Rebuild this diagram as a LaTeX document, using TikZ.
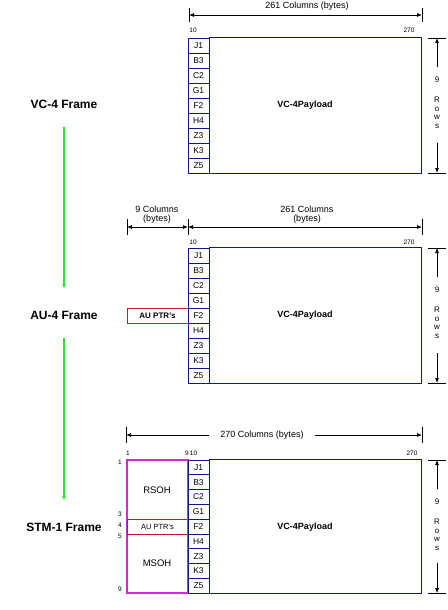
\documentclass[tikz,border=0pt]{standalone}
\usepackage{fontspec}
\setmainfont{Liberation Sans}
\usetikzlibrary{arrows.meta}
\definecolor{boxblue}{RGB}{20,20,130}
\definecolor{ptrred}{RGB}{190,30,30}
\definecolor{sohpink}{RGB}{210,40,210}
\definecolor{flowgreen}{RGB}{40,225,40}

\begin{document}
\begin{tikzpicture}[x=1pt, y=-1pt, line width=0.9pt,
	oh/.style={draw=boxblue, minimum width=21pt, minimum height=15pt, inner sep=0pt, font=\fontsize{8.5}{9}\selectfont},
	ohs/.style={oh, minimum height=14.8pt},
	frame/.style={font=\bfseries\fontsize{12}{14}\selectfont, inner sep=0pt},
	pay/.style={font=\bfseries\fontsize{9}{11}\selectfont},
	ptr/.style={draw=ptrred, minimum width=61pt, minimum height=15pt, inner sep=0pt},
	soh/.style={font=\fontsize{9.5}{11}\selectfont},
	dimtxt/.style={font=\fontsize{9}{9}\selectfont, align=center, inner sep=0pt},
	num/.style={font=\fontsize{6.5}{7}\selectfont, inner sep=0pt},
	rows/.style={font=\fontsize{8}{8.7}\selectfont, align=center, inner sep=0pt},
	dim/.style={<->, >={Latex[length=5pt,width=4pt]}, line width=0.7pt},
	tick/.style={line width=0.7pt},
	grn/.style={->, >={Latex[length=4pt,width=4pt]}, color=flowgreen, line width=1.7pt}]

	\useasboundingbox (0,0) rectangle (447,610);

	% frame names on the left
	\node[frame] (vcf) at (64,104) {VC-4 Frame};
	\node[frame] (auf) at (64,315) {AU-4 Frame};
	\node[frame] (stf) at (64,527) {STM-1 Frame};
	\draw[grn, shorten <=18pt, shorten >=22pt] (vcf) -- (auf);
	\draw[grn, shorten <=18pt, shorten >=22pt] (auf) -- (stf);

	% VC-4 frame
	\coordinate (d1l) at (189,15);
	\coordinate (d1r) at (422,15);
	\draw[dim] (d1l) -- (d1r);
	\draw[tick] (189,8) -- (189,22) (422,8) -- (422,22);
	\node[dimtxt] (d1t) at (307,6) {261 Columns (bytes)};
	\node[num] (n1a) at (193,30) {10};
	\node[num] (n1b) at (409,30) {270};
	\foreach \t [count=\i] in {J1,B3,C2,G1,F2,H4,Z3,K3,Z5}
		\node[oh] (v\i) at (198.5,{30.5+15*\i}) {\t};
	\draw[boxblue] (v1.north east) rectangle (421,173);
	\node[pay] (vpl) at (305,105) {VC-4Payload};

	% AU-4 frame
	\coordinate (d2l) at (127,227);
	\coordinate (d2m) at (188,227);
	\coordinate (d2r) at (422,227);
	\draw[dim] (d2l) -- (d2m);
	\draw[dim] (d2m) -- (d2r);
	\draw[tick] (127,219) -- (127,235) (188,219) -- (188,235) (422,219) -- (422,235);
	\node[dimtxt] (d2a) at (157,214.5) {9 Columns\\(bytes)};
	\node[dimtxt] (d2b) at (307,214.5) {261 Columns\\(bytes)};
	\node[num] (n2a) at (193,242) {10};
	\node[num] (n2b) at (409,242) {270};
	\node[ptr, font=\bfseries\fontsize{8}{9}\selectfont] (aup) at (157.5,315.5) {AU PTR's};
	\foreach \t [count=\i] in {J1,B3,C2,G1,F2,H4,Z3,K3,Z5}
		\node[oh] (a\i) at (198.5,{240.5+15*\i}) {\t};
	\draw[boxblue] (a1.north east) rectangle (421,383);
	\node[pay] (apl) at (305,315) {VC-4Payload};

	% STM-1 frame
	\coordinate (d3l) at (126,435);
	\coordinate (d3r) at (422,435);
	\draw[dim] (d3l) -- (d3r);
	\draw[tick] (126,427) -- (126,443) (422,427) -- (422,443);
	\node[dimtxt, fill=white, inner xsep=11pt, inner ysep=2pt] (d3t) at (262,435) {270 Columns (bytes)};
	\node[num] (n3a) at (128,453) {1};
	\node[num] (n3b) at (187,453) {9};
	\node[num] (n3c) at (193.5,453) {10};
	\node[num] (n3d) at (412,453) {270};
	\node[num] (r1) at (120,462) {1};
	\node[num] (r3) at (120,514) {3};
	\node[num] (r4) at (120,525) {4};
	\node[num] (r5) at (120,536) {5};
	\node[num] (r9) at (120,589) {9};
	\draw[sohpink, line width=2pt] (127,460) rectangle (188,593);
	\node[soh] (rsoh) at (157,490) {RSOH};
	\node[soh] (msoh) at (157,563) {MSOH};
	\node[ptr, minimum height=14.8pt, font=\fontsize{7.5}{9}\selectfont] (sup) at (157.5,526.6) {AU PTR's};
	\foreach \t [count=\i] in {J1,B3,C2,G1,F2,H4,Z3,K3,Z5}
		\node[ohs] (s\i) at (198.5,{452.6+14.8*\i}) {\t};
	\draw[boxblue] (s1.north east) rectangle (421,593.2);
	\node[pay] (spl) at (305,527) {VC-4Payload};

	% row counts on the right
	\foreach \tp/\bt/\n in {38/173/ra, 248/383/rb, 460/593.2/rc} {
		\coordinate (\n-top) at (437,\tp);
		\coordinate (\n-bot) at (437,\bt);
		\coordinate (\n-a) at (437,{\tp+29});
		\coordinate (\n-b) at (437,{\bt-30});
		\draw[tick] (428,\tp) -- (446,\tp) (428,\bt) -- (446,\bt);
		\draw[dim, <-] (\n-top) -- (\n-a);
		\draw[dim, ->] (\n-b) -- (\n-bot);
		\node[rows] (\n-lbl) at (437,{\tp+65}) {9\\[11pt]R\\o\\w\\s};
	}
\end{tikzpicture}
\end{document}
